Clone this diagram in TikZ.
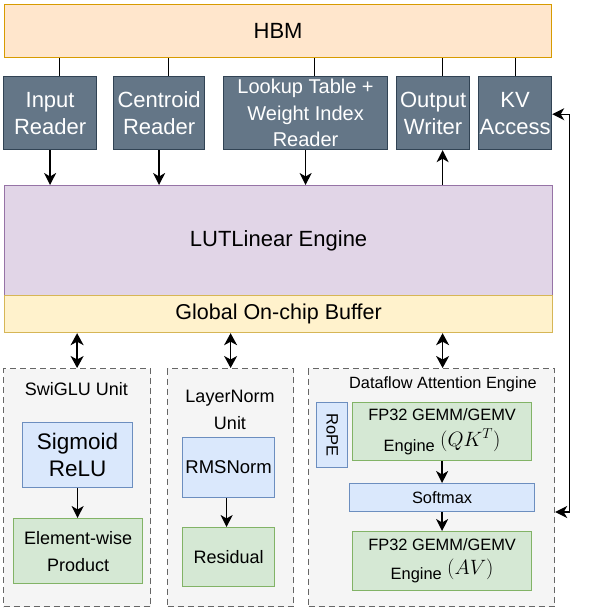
\documentclass[tikz,border=0pt]{standalone}
\usepackage{fontspec}
\setmainfont{Liberation Sans}
\usetikzlibrary{arrows.meta}
\definecolor{hbmfill}{HTML}{FFE6CC}
\definecolor{hbmdraw}{HTML}{D79B00}
\definecolor{darkfill}{HTML}{647687}
\definecolor{darkdraw}{HTML}{314354}
\definecolor{lutfill}{HTML}{E1D5E7}
\definecolor{lutdraw}{HTML}{9673A6}
\definecolor{buffill}{HTML}{FFF2CC}
\definecolor{bufdraw}{HTML}{D6B656}
\definecolor{contfill}{HTML}{F5F5F5}
\definecolor{contdraw}{HTML}{666666}
\definecolor{bluefill}{HTML}{DAE8FC}
\definecolor{bluedraw}{HTML}{6C8EBF}
\definecolor{greenfill}{HTML}{D5E8D4}
\definecolor{greendraw}{HTML}{82B366}
\newcommand\fsz[2]{\fontsize{#1}{#2}\selectfont}
\begin{document}
\begin{tikzpicture}[x=1pt,y=-1pt,
  box/.style={draw, line width=1.2pt, inner sep=0pt, anchor=north west, align=center},
  hbmbox/.style={box, fill=hbmfill, draw=hbmdraw},
  darkbox/.style={box, fill=darkfill, draw=darkdraw, text=white},
  lutbox/.style={box, fill=lutfill, draw=lutdraw},
  bufbox/.style={box, fill=buffill, draw=bufdraw},
  contbox/.style={box, fill=contfill, draw=contdraw, dash pattern=on 6pt off 4pt},
  bluebox/.style={box, fill=bluefill, draw=bluedraw},
  greenbox/.style={box, fill=greenfill, draw=greendraw},
  title/.style={inner sep=0pt, align=center},
  plainline/.style={line width=1.2pt},
  arr/.style={line width=1.5pt, -{Stealth[length=12pt,width=12pt,inset=3.5pt]}},
  darr/.style={line width=1.5pt, {Stealth[length=12pt,width=13pt,inset=3.5pt]}-{Stealth[length=12pt,width=13pt,inset=3.5pt]}},
  kvarr/.style={line width=1.3pt, {Stealth[length=12pt,width=12pt,inset=3.5pt]}-{Stealth[length=12pt,width=12pt,inset=3.5pt]}},
]
\useasboundingbox (0,0) rectangle (588,609);

% HBM
\node[hbmbox, minimum width=547pt, minimum height=53pt, font=\fsz{22}{26}] (hbm) at (4,4) {HBM};

% top row
\node[darkbox, minimum width=93pt, minimum height=73pt, font=\fsz{22}{27}] (ir) at (3,76) {Input\\Reader};
\node[darkbox, minimum width=91pt, minimum height=73pt, font=\fsz{22}{27}] (cr) at (113,76) {Centroid\\Reader};
\node[darkbox, minimum width=164pt, minimum height=73pt, font=\fsz{20}{26.5}] (lt) at (223,76) {Lookup Table +\\Weight Index\\Reader};
\node[darkbox, minimum width=73pt, minimum height=73pt, font=\fsz{22}{27}] (ow) at (396,76) {Output\\Writer};
\node[darkbox, minimum width=73pt, minimum height=73pt, font=\fsz{22}{27}] (kv) at (478,76) {KV\\Access};

% LUT and buffer
\node[lutbox, minimum width=548pt, minimum height=110pt, font=\fsz{22}{26}] (lut) at (4,185) {LUTLinear Engine};
\node[bufbox, minimum width=548pt, minimum height=37pt, font=\fsz{21.5}{25}] (buf) at (4,295) {Global On-chip Buffer};

% containers
\node[contbox, minimum width=147pt, minimum height=238pt] (swi) at (3,368) {};
\node[contbox, minimum width=126pt, minimum height=238pt] (ln) at (167,368) {};
\node[contbox, minimum width=246pt, minimum height=238pt] (dae) at (308,368) {};

\node[title, font=\fsz{18}{22}] (switl) at (76.5,389) {SwiGLU Unit};
\node[title, font=\fsz{18}{27}] (lntl) at (230,410) {LayerNorm\\Unit};
\node[title, font=\fsz{16.3}{20}] (daetl) at (443,384) {Dataflow Attention Engine};

% SwiGLU content
\node[bluebox, minimum width=110pt, minimum height=65pt, font=\fsz{22.5}{27}] (sig) at (22,422) {Sigmoid\\ReLU};
\node[greenbox, minimum width=129pt, minimum height=65pt, font=\fsz{18}{27}] (ew) at (13,518) {Element-wise\\Product};

% LayerNorm content
\node[bluebox, minimum width=92pt, minimum height=60pt, font=\fsz{18.5}{22}] (rms) at (182,437) {RMSNorm};
\node[greenbox, minimum width=92pt, minimum height=59pt, font=\fsz{18}{22}] (res) at (182,527) {Residual};

% Attention content
\node[bluebox, minimum width=31pt, minimum height=65pt] (rope) at (316,402) {};
\node[title, rotate=-90, font=\fsz{16.5}{20}] (ropetxt) at (rope.center) {RoPE};
\node[greenbox, minimum width=179pt, minimum height=58pt, font=\fsz{16.4}{31}] (qk) at (352,402) {FP32 GEMM/GEMV\\Engine\,\,\raisebox{5pt}{\fsz{22}{22}$(QK^T)$}};
\node[bluebox, minimum width=185pt, minimum height=28pt, font=\fsz{16.4}{20}] (sm) at (349,483) {Softmax};
\node[greenbox, minimum width=179pt, minimum height=59pt, font=\fsz{16.4}{29}] (av) at (352,531) {FP32 GEMM/GEMV\\Engine\,\,\raisebox{5pt}{\fsz{22}{22}$(AV)$}};

% HBM to top row lines
\draw[plainline] ([xshift=9pt]ir.north) -- ([xshift=9pt]ir.north |- hbm.south);
\draw[plainline] ([xshift=9.5pt]cr.north) -- ([xshift=9.5pt]cr.north |- hbm.south);
\draw[plainline] ([xshift=9pt]lt.north) -- ([xshift=9pt]lt.north |- hbm.south);
\draw[plainline] ([xshift=9.5pt]ow.north) -- ([xshift=9.5pt]ow.north |- hbm.south);
\draw[plainline] (kv.north) -- (kv.north |- hbm.south);

% top row to LUT
\draw[arr] (ir.south) -- (ir.south |- lut.north);
\draw[arr] (cr.south) -- (cr.south |- lut.north);
\draw[arr] (lt.south) -- (lt.south |- lut.north);
\draw[arr] ([xshift=9.5pt]ow.south |- lut.north) -- ([xshift=9.5pt]ow.south);

% buffer to containers
\draw[darr] (swi.north |- buf.south) -- (swi.north);
\draw[darr] (ln.north |- buf.south) -- (ln.north);
\draw[darr] ([xshift=11pt]dae.north |- buf.south) -- ([xshift=11pt]dae.north);

% inner arrows
\draw[arr] (sig.south) -- (sig.south |- ew.north);
\draw[arr] ([xshift=-2pt]rms.south) -- ([xshift=-2pt]rms.south |- res.north);
\draw[arr] (qk.south) -- (qk.south |- sm.north);
\draw[arr] (qk.south |- sm.south) -- (qk.south |- av.north);

% KV access loop
\coordinate (kvin) at ([yshift=36pt]kv.south east);
\coordinate (daein) at ([yshift=-144pt]dae.north east);
\draw[kvarr] (kvin) -- ++(17,0) |- (daein);
\end{tikzpicture}
\end{document}
